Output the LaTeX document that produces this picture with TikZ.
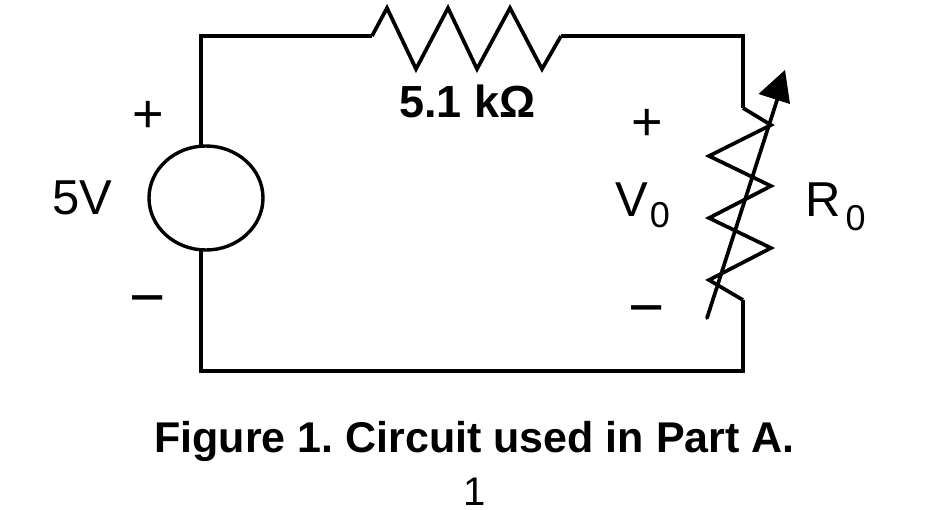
\documentclass[tikz,border=0pt]{standalone}
\usepackage{fontspec}
\setmainfont{Liberation Sans}
\frenchspacing
\newcommand{\fsz}[1]{\fontsize{#1}{#1}\selectfont}
\newcommand{\lowzero}[1]{\raisebox{#1}{\fsz{36}0}}
\tikzset{
  wire/.style={draw=black,line width=3.1pt,line join=miter,line cap=butt},
  zig/.style={draw=black,line width=3.7pt,line join=miter},
  source/.style={draw=black,line width=3.4pt,ellipse,minimum width=114pt,minimum height=104pt,inner sep=0pt},
  lab/.style={inner sep=0pt,anchor=base,text=black,font=\fsz{49}},
  blab/.style={inner sep=0pt,anchor=base,text=black,font=\fsz{43}\bfseries},
}
\usetikzlibrary{shapes.geometric}
\begin{document}
\begin{tikzpicture}[x=1pt,y=-1pt]
\useasboundingbox (0,0) rectangle (934,510);
\fill[white] (0,0) rectangle (934,510);
\node[source] (src) at (206,198) {};
\coordinate (srcT) at (201,146.5);
\coordinate (srcB) at (201,249.5);
\coordinate (tl) at (201,36);
\coordinate (bl) at (201,371);
\coordinate (tr) at (743,36);
\coordinate (br) at (743,371);
\coordinate (rA) at (372,36);
\coordinate (rB) at (561,36);
\coordinate (vA) at (743,108);
\coordinate (vB) at (743,300);
\coordinate (knobS) at (707,318);
\coordinate (knobE) at (779,94);
\draw[wire] (srcT) -- (tl) -- (rA);
\draw[wire] (rB) -- (tr) -- (vA);
\draw[wire] (vB) -- (br) -- (bl) -- (srcB);
\draw[zig] (rA) -- (387,8) -- (416,69) -- (448,8) -- (477,69) -- (510,8) -- (542,69) -- (rB);
\draw[zig] (vA) -- (771,125) -- (709,156) -- (771,186) -- (709,218) -- (771,248) -- (709,280) -- (vB);
\draw[line width=3.7pt,line cap=round] (knobS) -- (knobE);
\fill[black] (785,70) -- (758.5,94) -- (790,104) -- cycle;
\node[lab,font=\fsz{54}] (p1) at (148,133) {+};
\node[lab,font=\fsz{62}] (m1) at (148,319) {−};
\node[lab] (five) at (82.5,215) {5V};
\node[lab,font=\fsz{54}] (p2) at (647,141) {+};
\node[lab,font=\fsz{62}] (m2) at (647,329) {−};
\node[lab,anchor=base west] (vo) at (615,216.5) {V\kern2pt\lowzero{-11pt}};
\node[lab,anchor=base west] (ro) at (805,216.5) {R\kern5pt\lowzero{-14pt}};
\node[blab,font=\fsz{45}\bfseries] (res) at (467.5,118) {5.1 kΩ};
\node[blab] (cap) at (474.5,452) {Figure 1. Circuit used in Part A.};
\node[lab,font=\fsz{40}] (pg) at (474.5,505) {1};
\end{tikzpicture}
\end{document}
